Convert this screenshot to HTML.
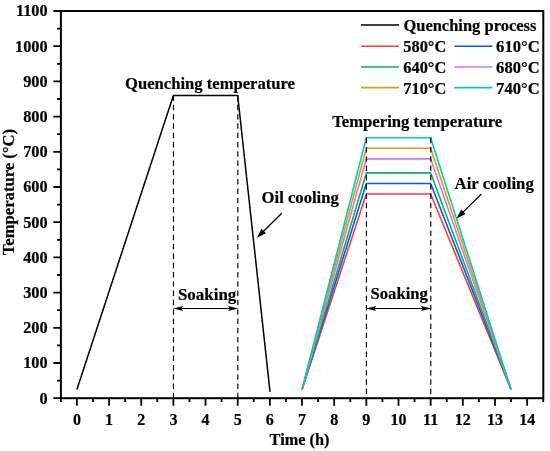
<!DOCTYPE html><html><head><meta charset="utf-8"><title>Heat treatment process</title><style>html,body{margin:0;padding:0;background:#fff}svg{display:block}text{font-family:"Liberation Serif","Times New Roman",serif;font-weight:bold;font-size:16px;fill:#000;stroke:#000;stroke-width:0.2px}.a{font-size:16.5px}</style></head><body>
<svg width="550" height="451" viewBox="0 0 550 451">
<rect width="550" height="451" fill="#fff"/>
<polyline fill="none" stroke="#000" stroke-width="1.5" stroke-linejoin="round" points="76.90,389.40 173.38,95.48 237.70,95.48 270.02,391.86"/>
<polyline fill="none" stroke="#FF3A3A" stroke-width="1.6" stroke-linejoin="round" points="302.02,389.40 366.34,194.04 430.66,194.04 511.06,389.40"/>
<polyline fill="none" stroke="#0A5AE0" stroke-width="1.6" stroke-linejoin="round" points="302.02,389.40 366.34,183.48 430.66,183.48 511.06,389.40"/>
<polyline fill="none" stroke="#10AD65" stroke-width="1.6" stroke-linejoin="round" points="302.02,389.40 366.34,172.92 430.66,172.92 511.06,389.40"/>
<polyline fill="none" stroke="#C47CEA" stroke-width="1.6" stroke-linejoin="round" points="302.02,389.40 366.34,158.84 430.66,158.84 511.06,389.40"/>
<polyline fill="none" stroke="#E39B0A" stroke-width="1.6" stroke-linejoin="round" points="302.02,389.40 366.34,148.28 430.66,148.28 511.06,389.40"/>
<polyline fill="none" stroke="#00C8CC" stroke-width="1.6" stroke-linejoin="round" points="302.02,389.40 366.34,137.72 430.66,137.72 511.06,389.40"/>
<line x1="173.48" y1="95.48" x2="173.48" y2="398.20" stroke="#000" stroke-width="1.15" stroke-dasharray="5.5,3.79"/>
<line x1="237.80" y1="95.48" x2="237.80" y2="398.20" stroke="#000" stroke-width="1.15" stroke-dasharray="5.5,3.79"/>
<line x1="366.44" y1="137.72" x2="366.44" y2="398.20" stroke="#000" stroke-width="1.15" stroke-dasharray="5.5,3.79"/>
<line x1="430.76" y1="137.72" x2="430.76" y2="398.20" stroke="#000" stroke-width="1.15" stroke-dasharray="5.5,3.79"/>
<rect x="60.90" y="11.00" width="482.40" height="387.20" fill="none" stroke="#000" stroke-width="2"/>
<path d="M76.90 398.20V405.7M109.06 398.20V405.7M141.22 398.20V405.7M173.38 398.20V405.7M205.54 398.20V405.7M237.70 398.20V405.7M269.86 398.20V405.7M302.02 398.20V405.7M334.18 398.20V405.7M366.34 398.20V405.7M398.50 398.20V405.7M430.66 398.20V405.7M462.82 398.20V405.7M494.98 398.20V405.7M527.14 398.20V405.7M92.98 398.20V401.9M125.14 398.20V401.9M157.30 398.20V401.9M189.46 398.20V401.9M221.62 398.20V401.9M253.78 398.20V401.9M285.94 398.20V401.9M318.10 398.20V401.9M350.26 398.20V401.9M382.42 398.20V401.9M414.58 398.20V401.9M446.74 398.20V401.9M478.90 398.20V401.9M511.06 398.20V401.9M543.22 398.20V401.9M60.90 398.20V401.9M60.90 398.20H53.3M60.90 363.00H53.3M60.90 327.80H53.3M60.90 292.60H53.3M60.90 257.40H53.3M60.90 222.20H53.3M60.90 187.00H53.3M60.90 151.80H53.3M60.90 116.60H53.3M60.90 81.40H53.3M60.90 46.20H53.3M60.90 11.00H53.3M60.90 380.60H57.1M60.90 345.40H57.1M60.90 310.20H57.1M60.90 275.00H57.1M60.90 239.80H57.1M60.90 204.60H57.1M60.90 169.40H57.1M60.90 134.20H57.1M60.90 99.00H57.1M60.90 63.80H57.1M60.90 28.60H57.1" stroke="#000" stroke-width="1.8" fill="none"/>
<text x="76.90" y="424.5" text-anchor="middle">0</text>
<text x="109.06" y="424.5" text-anchor="middle">1</text>
<text x="141.22" y="424.5" text-anchor="middle">2</text>
<text x="173.38" y="424.5" text-anchor="middle">3</text>
<text x="205.54" y="424.5" text-anchor="middle">4</text>
<text x="237.70" y="424.5" text-anchor="middle">5</text>
<text x="269.86" y="424.5" text-anchor="middle">6</text>
<text x="302.02" y="424.5" text-anchor="middle">7</text>
<text x="334.18" y="424.5" text-anchor="middle">8</text>
<text x="366.34" y="424.5" text-anchor="middle">9</text>
<text x="398.50" y="424.5" text-anchor="middle">10</text>
<text x="430.66" y="424.5" text-anchor="middle">11</text>
<text x="462.82" y="424.5" text-anchor="middle">12</text>
<text x="494.98" y="424.5" text-anchor="middle">13</text>
<text x="527.14" y="424.5" text-anchor="middle">14</text>
<text x="47.6" y="403.50" text-anchor="end" style="font-size:16.3px">0</text>
<text x="47.6" y="368.30" text-anchor="end" style="font-size:16.3px">100</text>
<text x="47.6" y="333.10" text-anchor="end" style="font-size:16.3px">200</text>
<text x="47.6" y="297.90" text-anchor="end" style="font-size:16.3px">300</text>
<text x="47.6" y="262.70" text-anchor="end" style="font-size:16.3px">400</text>
<text x="47.6" y="227.50" text-anchor="end" style="font-size:16.3px">500</text>
<text x="47.6" y="192.30" text-anchor="end" style="font-size:16.3px">600</text>
<text x="47.6" y="157.10" text-anchor="end" style="font-size:16.3px">700</text>
<text x="47.6" y="121.90" text-anchor="end" style="font-size:16.3px">800</text>
<text x="47.6" y="86.70" text-anchor="end" style="font-size:16.3px">900</text>
<text x="47.6" y="51.50" text-anchor="end" style="font-size:16.3px">1000</text>
<text x="47.6" y="16.30" text-anchor="end" style="font-size:16.3px">1100</text>
<text class="a" x="269.60" y="444.60" textLength="59.90" lengthAdjust="spacingAndGlyphs">Time (h)</text>
<text transform="translate(14.2 255.2) rotate(-90)" textLength="126.3" lengthAdjust="spacingAndGlyphs">Temperature (°C)</text>
<text class="a" x="125.00" y="89.20" textLength="170.00" lengthAdjust="spacingAndGlyphs">Quenching temperature</text>
<text class="a" x="332.20" y="127.00" textLength="170.10" lengthAdjust="spacingAndGlyphs">Tempering temperature</text>
<text class="a" x="261.60" y="203.00" textLength="77.20" lengthAdjust="spacingAndGlyphs">Oil cooling</text>
<text class="a" x="454.60" y="189.40" textLength="79.20" lengthAdjust="spacingAndGlyphs">Air cooling</text>
<text class="a" x="177.90" y="300.40" textLength="58.40" lengthAdjust="spacingAndGlyphs">Soaking</text>
<text class="a" x="370.50" y="299.00" textLength="57.40" lengthAdjust="spacingAndGlyphs">Soaking</text>
<line x1="180.48" y1="308.50" x2="230.82" y2="308.50" stroke="#000" stroke-width="1.2"/>
<path d="M238.40 308.50L228.00 311.10L229.98 308.50L228.00 305.90ZM172.90 308.50L183.30 311.10L181.32 308.50L183.30 305.90Z" fill="#000"/>
<line x1="373.48" y1="308.50" x2="423.72" y2="308.50" stroke="#000" stroke-width="1.2"/>
<path d="M431.30 308.50L420.90 311.10L422.88 308.50L420.90 305.90ZM365.90 308.50L376.30 311.10L374.32 308.50L376.30 305.90Z" fill="#000"/>
<line x1="281.75" y1="213.20" x2="263.04" y2="231.72" stroke="#000" stroke-width="1.3"/>
<path d="M256.90 237.80L261.51 228.81L263.72 231.05L265.94 233.28Z" fill="#000"/>
<line x1="481.40" y1="194.00" x2="462.76" y2="212.34" stroke="#000" stroke-width="1.3"/>
<path d="M456.60 218.40L461.23 209.42L463.44 211.67L465.65 213.91Z" fill="#000"/>
<line x1="361" y1="25.0" x2="399" y2="25.0" stroke="#000" stroke-width="1.35"/>
<text class="a" x="403.40" y="31.00" textLength="133.00" lengthAdjust="spacingAndGlyphs">Quenching process</text>
<line x1="361" y1="46.2" x2="399" y2="46.2" stroke="#FF3A3A" stroke-width="1.6"/>
<text class="a" x="403.30" y="52.10" textLength="42.90" lengthAdjust="spacingAndGlyphs">580°C</text>
<line x1="454.3" y1="46.2" x2="492.4" y2="46.2" stroke="#0A5AE0" stroke-width="1.6"/>
<text class="a" x="496.10" y="52.10" textLength="43.60" lengthAdjust="spacingAndGlyphs">610°C</text>
<line x1="361" y1="67.0" x2="399" y2="67.0" stroke="#10AD65" stroke-width="1.6"/>
<text class="a" x="403.30" y="72.90" textLength="42.90" lengthAdjust="spacingAndGlyphs">640°C</text>
<line x1="454.3" y1="67.0" x2="492.4" y2="67.0" stroke="#C47CEA" stroke-width="1.6"/>
<text class="a" x="496.10" y="72.90" textLength="43.60" lengthAdjust="spacingAndGlyphs">680°C</text>
<line x1="361" y1="87.6" x2="399" y2="87.6" stroke="#E39B0A" stroke-width="1.6"/>
<text class="a" x="403.30" y="93.50" textLength="42.90" lengthAdjust="spacingAndGlyphs">710°C</text>
<line x1="454.3" y1="87.6" x2="492.4" y2="87.6" stroke="#00C8CC" stroke-width="1.6"/>
<text class="a" x="496.10" y="93.50" textLength="43.60" lengthAdjust="spacingAndGlyphs">740°C</text>
</svg></body></html>
